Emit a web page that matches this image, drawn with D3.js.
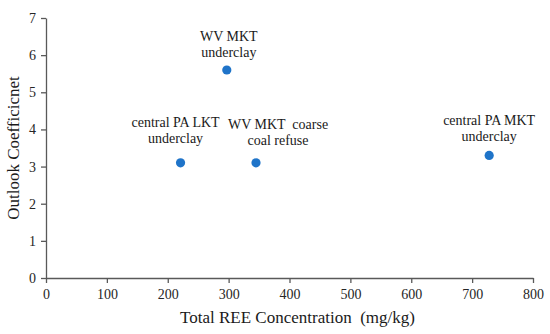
<!doctype html>
<html lang="en">
 <head>
   <meta charset="UTF-8">
   <title>Outlook coefficient vs REE</title>
   <script src="https://d3js.org/d3.v7.min.js"></script>
   <style>
     body { margin: 0; background: #fff; }
     svg text { font-family: "Liberation Serif", Tinos, "Times New Roman", serif; }
   </style>
 </head>
 <body>
   <div id="myDiv"></div>

 <script type="text/javascript">

   // sample names, split over two lines as in the original
   let names = [
     ["central PA LKT", "underclay"],
     ["WV MKT", "underclay"],
     ["WV MKT  coarse", "coal refuse"],
     ["central PA MKT", "underclay"]
   ];
   let reeValues = [221, 297, 345, 728];
   let outlookValues = [3.1, 5.6, 3.1, 3.3];
   let xTicks = [0, 100, 200, 300, 400, 500, 600, 700, 800];
   let yTicks = [0, 1, 2, 3, 4, 5, 6, 7];

   let data = names.map(function(n, i){
       return {name: n, x: reeValues[i], y: outlookValues[i]};
   });

   let width = 550, height = 334;
   let margin = {left: 46, right: 17, top: 18, bottom: 56};

   let svgContainer = d3.select("#myDiv").append("svg")
      .attr("width", width)
      .attr("height", height);

   let x = d3.scaleLinear().domain([0, 800]).range([margin.left, width - margin.right]);
   let y = d3.scaleLinear().domain([0, 7]).range([height - margin.bottom, margin.top]);

   // x axis
   svgContainer.append("g")
       .attr("transform", "translate(0," + (height - margin.bottom) + ")")
       .call(d3.axisBottom(x).tickValues(xTicks).tickFormat(d3.format("d"))
             .tickSize(5).tickSizeOuter(0).tickPadding(6));

   // y axis
   svgContainer.append("g")
       .attr("transform", "translate(" + margin.left + ",0)")
       .call(d3.axisLeft(y).tickValues(yTicks).tickFormat(d3.format("d"))
             .tickSize(5).tickSizeOuter(0).tickPadding(5));

   svgContainer.selectAll(".domain, .tick line")
       .attr("stroke", "#595959")
       .attr("stroke-width", 1.3);
   svgContainer.selectAll(".tick text")
       .attr("font-size", "14px")
       .attr("fill", "#262626");

   // points
   svgContainer.selectAll("circle")
       .data(data)
       .enter()
       .append("circle")
           .attr("cx", function(d){ return x(d.x); })
           .attr("cy", function(d){ return y(d.y); })
           .attr("r", 4.6)
           .attr("fill", "#1f74c9");

   // labels above the points (nudged a bit, like the hand placed excel labels)
   let labelShift = [-5, 2, 22, 0];
   let labelRise = [36, 29, 34, 30];
   let labels = svgContainer.selectAll(".pointLabel")
       .data(data)
       .enter()
       .append("text")
           .attr("class", "pointLabel")
           .attr("text-anchor", "middle")
           .attr("font-size", "14px")
           .attr("fill", "#1a1a1a")
           .style("white-space", "pre");
   labels.each(function(d, i){
       let t = d3.select(this);
       t.append("tspan")
           .attr("x", x(d.x) + labelShift[i])
           .attr("y", y(d.y) - labelRise[i])
           .text(d.name[0]);
       t.append("tspan")
           .attr("x", x(d.x) + labelShift[i])
           .attr("y", y(d.y) - labelRise[i] + 16)
           .text(d.name[1]);
   });

   // axis titles
   svgContainer.append("text")
       .attr("x", (margin.left + width - margin.right) / 2 + 8)
       .attr("y", 323)
       .attr("text-anchor", "middle")
       .attr("font-size", "17px")
       .attr("fill", "#1a1a1a")
       .style("white-space", "pre")
       .text("Total REE Concentration  (mg/kg)");

   svgContainer.append("text")
       .attr("transform", "translate(19," + ((margin.top + height - margin.bottom) / 2) + ") rotate(-90)")
       .attr("text-anchor", "middle")
       .attr("font-size", "17px")
       .attr("fill", "#1a1a1a")
       .text("Outlook Coefficicnet");

 </script>
</body>
</html>
